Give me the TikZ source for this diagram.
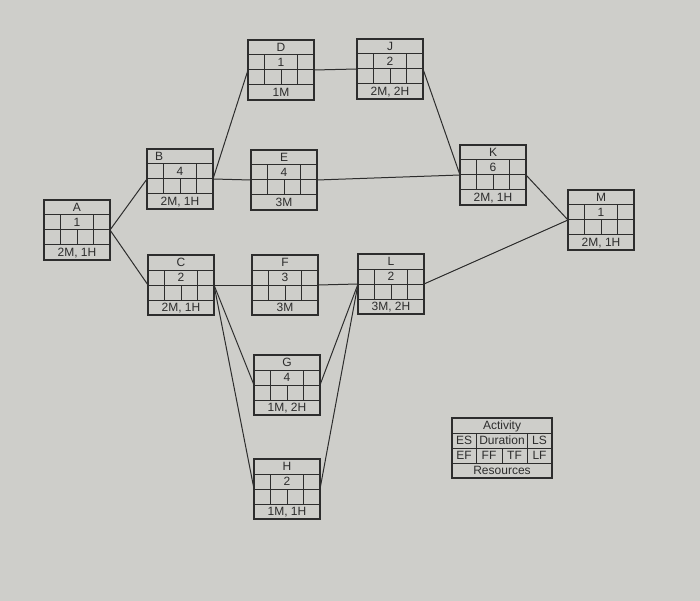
\documentclass[tikz,border=0pt]{standalone}
\usepackage{fontspec}
\setmainfont{Liberation Sans}
\definecolor{paper}{RGB}{206,206,202}
\definecolor{ink}{RGB}{45,45,45}
\tikzset{
  actframe/.style={draw=ink, line width=1.1pt, minimum width=66pt, minimum height=60pt, inner sep=0pt, outer sep=0pt},
  legframe/.style={draw=ink, line width=1.1pt, minimum width=100pt, minimum height=60pt, inner sep=0pt, outer sep=0pt},
  gridline/.style={draw=ink, line width=1pt},
  conn/.style={draw=ink, line width=1pt},
  lbl/.style={font=\fontsize{12}{13}\selectfont, text=ink, inner sep=0pt, text height=8.6pt, text depth=0pt},
}
% #1 letter position options, #2 name, #3 x, #4 y, #5 letter, #6 duration, #7 resources
\newcommand{\actbox}[7][at={(0,-22.5)}]{%
  \node[actframe] (#2) at (#3,#4) {};
  \begin{scope}[shift={(#3,#4)}]
    \draw[gridline] (-33,-15) -- (33,-15);
    \draw[gridline] (-33,0) -- (33,0);
    \draw[gridline] (-33,15) -- (33,15);
    \draw[gridline] (-16.5,-15) -- (-16.5,15);
    \draw[gridline] (16.5,-15) -- (16.5,15);
    \draw[gridline] (0,0) -- (0,15);
    \node[lbl,#1] (#2-name) {#5};
    \node[lbl] (#2-dur) at (0,-7.5) {#6};
    \node[lbl] (#2-res) at (0,22.5) {#7};
  \end{scope}
}
\begin{document}
\begin{tikzpicture}[x=1pt,y=-1pt]
  \fill[paper] (0,0) rectangle (700,601);
  \useasboundingbox (0,0) rectangle (700,601);

  \actbox{A}{77}{230}{A}{1}{2M, 1H}
  \actbox[at={(-25,-22.5)},anchor=west]{B}{180}{179}{B}{4}{2M, 1H}
  \actbox{C}{181}{285}{C}{2}{2M, 1H}
  \actbox{D}{281}{70}{D}{1}{1M}
  \actbox{E}{284}{180}{E}{4}{3M}
  \actbox{F}{285}{285}{F}{3}{3M}
  \actbox{G}{287}{385}{G}{4}{1M, 2H}
  \actbox{H}{287}{489}{H}{2}{1M, 1H}
  \actbox{J}{390}{69}{J}{2}{2M, 2H}
  \actbox{K}{493}{175}{K}{6}{2M, 1H}
  \actbox{L}{391}{284}{L}{2}{3M, 2H}
  \actbox{M}{601}{220}{M}{1}{2M, 1H}

  % connectors
  \draw[conn] (A.east) -- (B.west);
  \draw[conn] (A.east) -- (C.west);
  \draw[conn] (B.east) -- (D.west);
  \draw[conn] (B.east) -- (E.west);
  \draw[conn] (C.east) -- (F.west);
  \draw[conn] (C.east) -- (G.west);
  \draw[conn] (C.east) -- (H.west);
  \draw[conn] (D.east) -- (J.west);
  \draw[conn] (J.east) -- (K.west);
  \draw[conn] (E.east) -- (K.west);
  \draw[conn] (F.east) -- (L.west);
  \draw[conn] (G.east) -- (L.west);
  \draw[conn] (H.east) -- (L.west);
  \draw[conn] (K.east) -- (M.west);
  \draw[conn] (L.east) -- (M.west);

  % legend
  \node[legframe] (legend) at (502,448) {};
  \begin{scope}[shift={(502,448)}]
    \draw[gridline] (-50,-15) -- (50,-15);
    \draw[gridline] (-50,0) -- (50,0);
    \draw[gridline] (-50,15) -- (50,15);
    \draw[gridline] (-26,-15) -- (-26,15);
    \draw[gridline] (25,-15) -- (25,15);
    \draw[gridline] (0,0) -- (0,15);
    \node[lbl] (leg-act) at (0,-22.5) {Activity};
    \node[lbl] (leg-es) at (-38,-7.5) {ES};
    \node[lbl] (leg-dur) at (0,-7.5) {Duration};
    \node[lbl] (leg-ls) at (37.5,-7.5) {LS};
    \node[lbl] (leg-ef) at (-38,7.5) {EF};
    \node[lbl] (leg-ff) at (-13,7.5) {FF};
    \node[lbl] (leg-tf) at (12.5,7.5) {TF};
    \node[lbl] (leg-lf) at (37.5,7.5) {LF};
    \node[lbl] (leg-res) at (0,22.5) {Resources};
  \end{scope}
\end{tikzpicture}
\end{document}
